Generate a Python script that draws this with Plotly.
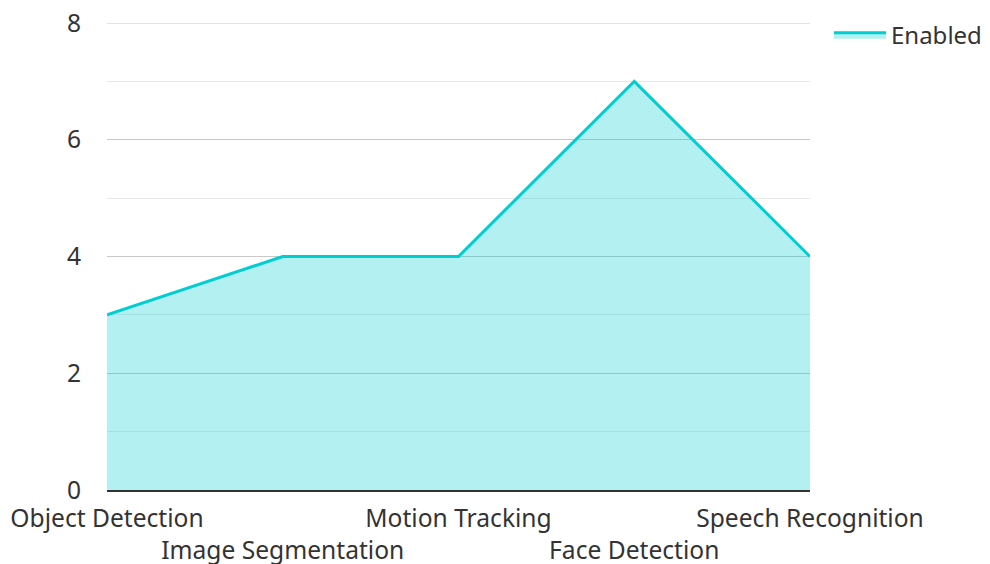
import plotly.graph_objects as go

categories = ["Object Detection", "Image Segmentation", "Motion Tracking", "Face Detection", "Speech Recognition"]
enabled = [3, 4, 4, 7, 4]
y_ticks = [0, 2, 4, 6, 8]
y_minor = [1, 3, 5, 7]

tick_text = [c if i % 2 == 0 else "<br>" + c for i, c in enumerate(categories)]

fig = go.Figure()
fig.add_trace(go.Scatter(
    x=list(range(len(categories))), y=enabled, name="Enabled",
    mode="lines", line=dict(color="#00CED1", width=3),
    fill="tozeroy", fillcolor="rgba(0,206,209,0.3)",
))

font = dict(family="Noto Sans", size=24.6, color="#333333")
fig.update_layout(
    width=990, height=564,
    margin=dict(l=107, r=180, t=23, b=74, autoexpand=False),
    paper_bgcolor="white", plot_bgcolor="white",
    font=font,
    showlegend=True,
    legend=dict(x=1.027, y=1.022, xanchor="left", yanchor="top",
                font=dict(family="Noto Sans", size=24, color="#333333"),
                itemwidth=52),
    xaxis=dict(
        range=[0, 4], tickmode="array", tickvals=list(range(len(categories))),
        ticktext=tick_text, tickangle=0, showgrid=False, zeroline=False,
        showline=True, linecolor="#333333", linewidth=2, ticks="",
        tickfont=font, automargin=False, ticklabelstandoff=5,
    ),
    yaxis=dict(
        range=[0, 8], tickmode="array", tickvals=y_ticks,
        showgrid=True, gridcolor="#c8c8c8", gridwidth=1, zeroline=False,
        minor=dict(tickvals=y_minor, showgrid=True, gridcolor="#e8e8e8", gridwidth=1),
        ticks="", ticklabelstandoff=25, tickfont=font, automargin=False,
    ),
    shapes=[dict(type="line", xref="paper", x0=0, x1=1, yref="y", y0=8, y1=8,
                 line=dict(color="#c8c8c8", width=1), layer="below")],
)
fig.write_html("out.html", config={"displayModeBar": False},
               post_script="document.body.style.margin='0';")
